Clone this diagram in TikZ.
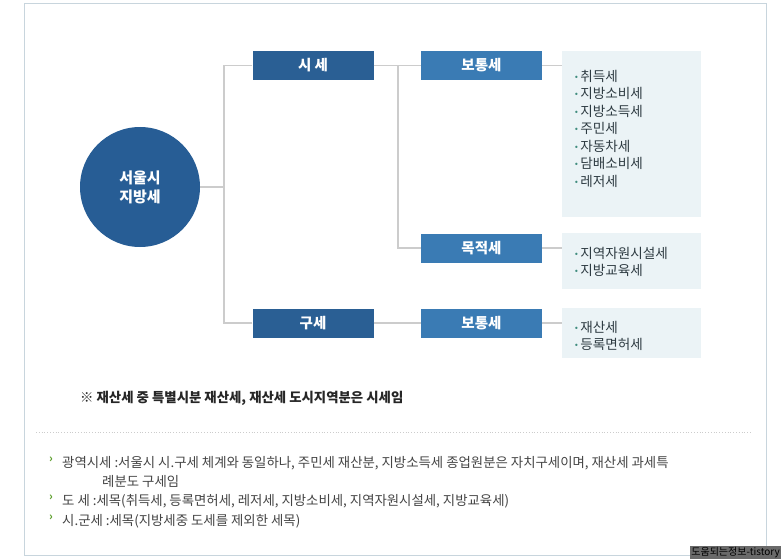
\documentclass[tikz,border=0pt]{standalone}
\usepackage{fontspec}
\setmainfont{Noto Sans CJK KR}
\definecolor{dkblue}{HTML}{2A5F94}
\definecolor{ltblue}{HTML}{3A7BB4}
\definecolor{circc}{HTML}{275D95}
\definecolor{linec}{HTML}{CCCCCC}
\definecolor{framec}{HTML}{C8D5DD}
\definecolor{listbg}{HTML}{EBF3F6}
\definecolor{listtx}{HTML}{2E3B42}
\definecolor{bulc}{HTML}{3F8C7E}
\definecolor{bodytx}{HTML}{444444}
\definecolor{arrc}{HTML}{5FA030}
\definecolor{wmgray}{HTML}{6A6A6A}
\tikzset{
  dbox/.style={fill=dkblue, text=white, minimum width=121pt, minimum height=29pt, inner sep=0pt, font=\bfseries\fontsize{14.5}{16}\selectfont},
  lbox/.style={dbox, fill=ltblue},
  listbox/.style={fill=listbg, minimum width=139pt, inner sep=0pt, anchor=north west},
  conn/.style={draw=linec, line width=1.2pt},
  listitem/.style={anchor=west, inner sep=0pt, text=listtx, font=\fontsize{13.6}{15}\selectfont},
  bodyline/.style={anchor=west, inner sep=0pt, text=bodytx, font=\fontsize{13.4}{15}\selectfont},
  arrmark/.style={anchor=west, inner sep=0pt, text=arrc, font=\bfseries\fontsize{11}{12}\selectfont}
}
\newcommand{\bul}{{\color{bulc}\bfseries\fontsize{11}{10}\selectfont ·}\hspace{0.5pt}}
\begin{document}
\begin{tikzpicture}[x=1pt,y=-1pt]
\useasboundingbox (0,0) rectangle (781,559);
\fill[white] (0,0) rectangle (781,559);
\draw[framec, line width=1pt] (24,4) rectangle (766,555);

% nodes
\node[circle, fill=circc, minimum size=120pt, inner sep=0pt, text=white, align=center,
      font=\bfseries\fontsize{15}{19}\selectfont] (root) at (140,187) {서울시\\지방세};
\node[dbox] (si) at (313,65.5) {시 세};
\node[dbox] (gu) at (313,323) {구세};
\node[lbox] (bt1) at (481.5,65.5) {보통세};
\node[lbox] (mj) at (481.5,248) {목적세};
\node[lbox] (bt2) at (481.5,323) {보통세};

\node[listbox, minimum height=166pt] (l1) at (562,51) {};
\node[listbox, minimum height=56pt] (l2) at (562,233) {};
\node[listbox, minimum height=50pt] (l3) at (562,308) {};

\foreach \t [count=\i] in {취득세,지방소비세,지방소득세,주민세,자동차세,담배소비세,레저세}
  \node[listitem] (a\i) at (573,{58.5+17.5*\i}) {\bul\t};
\node[listitem] (b1) at (573,253) {\bul 지역자원시설세};
\node[listitem] (b2) at (573,270.5) {\bul 지방교육세};
\node[listitem] (c1) at (573,327) {\bul 재산세};
\node[listitem] (c2) at (573,344.5) {\bul 등록면허세};

% connectors
\coordinate (j1) at (224,187);
\coordinate (j2) at (398,65.5);
\draw[conn] (root.east) -- (j1);
\draw[conn] (si.west) -| (j1);
\draw[conn] (gu.west) -| (j1);
\draw[conn] (si.east) -- (bt1.west);
\draw[conn] (mj.west) -| (j2);
\draw[conn] (gu.east) -- (bt2.west);
\draw[conn] (bt1.east) -- (bt1.east -| l1.west);
\draw[conn] (mj.east) -- (mj.east -| l2.west);
\draw[conn] (bt2.east) -- (bt2.east -| l3.west);

% note
\node[anchor=west, inner sep=0pt, text=black!85, font=\bfseries\fontsize{13.4}{15}\selectfont] (note) at (80,398)
  {※ 재산세 중 특별시분 재산세, 재산세 도시지역분은 시세임};

\draw[linec, dotted, line width=0.8pt] (36,432) -- (752,432);

% bottom lines
\node[arrmark] (m1) at (49,460) {›};
\node[bodyline] (t1) at (62,463) {광역시세 :서울시 시.구세 체계와 동일하나, 주민세 재산분, 지방소득세 종업원분은 자치구세이며, 재산세 과세특};
\node[bodyline] (t1b) at (102,481) {례분도 구세임};
\node[arrmark] (m2) at (49,498) {›};
\node[bodyline] (t2) at (62,501) {도 세 :세목(취득세, 등록면허세, 레저세, 지방소비세, 지역자원시설세, 지방교육세)};
\node[arrmark] (m3) at (49,518) {›};
\node[bodyline] (t3) at (62,521) {시.군세 :세목(지방세중 도세를 제외한 세목)};

% watermark
\node[fill=wmgray, text=black, inner sep=1pt, anchor=south east, font=\fontsize{10}{12}\selectfont] (wm) at (781,559) {도움되는정보-tistory};
\end{tikzpicture}
\end{document}
